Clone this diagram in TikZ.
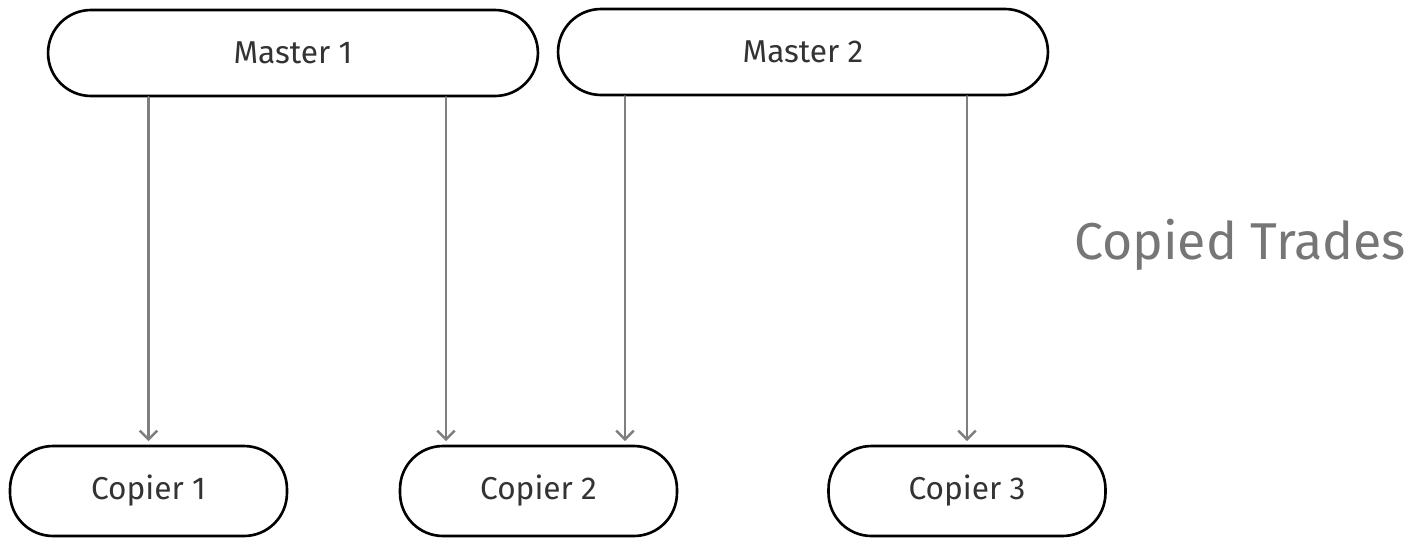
\documentclass[tikz,border=0pt]{standalone}
\usepackage{fontspec}
\setmainfont{Fira Sans}
\usetikzlibrary{arrows.meta}
\definecolor{txtgray}{HTML}{333333}
\definecolor{arrgray}{HTML}{7F7F7F}
\definecolor{lblgray}{HTML}{767676}
\begin{document}
\begin{tikzpicture}[x=0.02cm, y=-0.02cm, line cap=round, line join=round,
    pill/.style={draw=black, line width=1.5pt, fill=white, rounded corners=0.86cm,
      inner sep=0pt, text=txtgray, font=\fontsize{18}{21}\selectfont},
    master/.style={pill, minimum width=9.8cm, minimum height=1.72cm},
    copier/.style={pill, minimum width=5.54cm, minimum height=1.8cm},
    flow/.style={draw=arrgray, line width=1.5pt,
      -{Straight Barb[length=5pt, width=10pt, line width=1.4pt]}}]
  \useasboundingbox (0,0) rectangle (1414,542);
  \node[master] (m1) at (293,53) {Master 1};
  \node[master] (m2) at (803,52) {Master 2};
  \node[copier] (c1) at (148.5,491) {Copier 1};
  \node[copier] (c2) at (538.5,491) {Copier 2};
  \node[copier] (c3) at (967,491) {Copier 3};
  \node[text=lblgray, font=\fontsize{29.5}{33}\selectfont, anchor=west] (lbl)
    at (1068,245) {Copied Trades};
  \draw[flow] (c1 |- m1.south) -- ([yshift=2pt]c1.north);
  \draw[flow] (446,0 |- m1.south) -- ([yshift=2pt]446,0 |- c2.north);
  \draw[flow] (625,0 |- m2.south) -- ([yshift=2pt]625,0 |- c2.north);
  \draw[flow] (c3 |- m2.south) -- ([yshift=2pt]c3.north);
\end{tikzpicture}
\end{document}
